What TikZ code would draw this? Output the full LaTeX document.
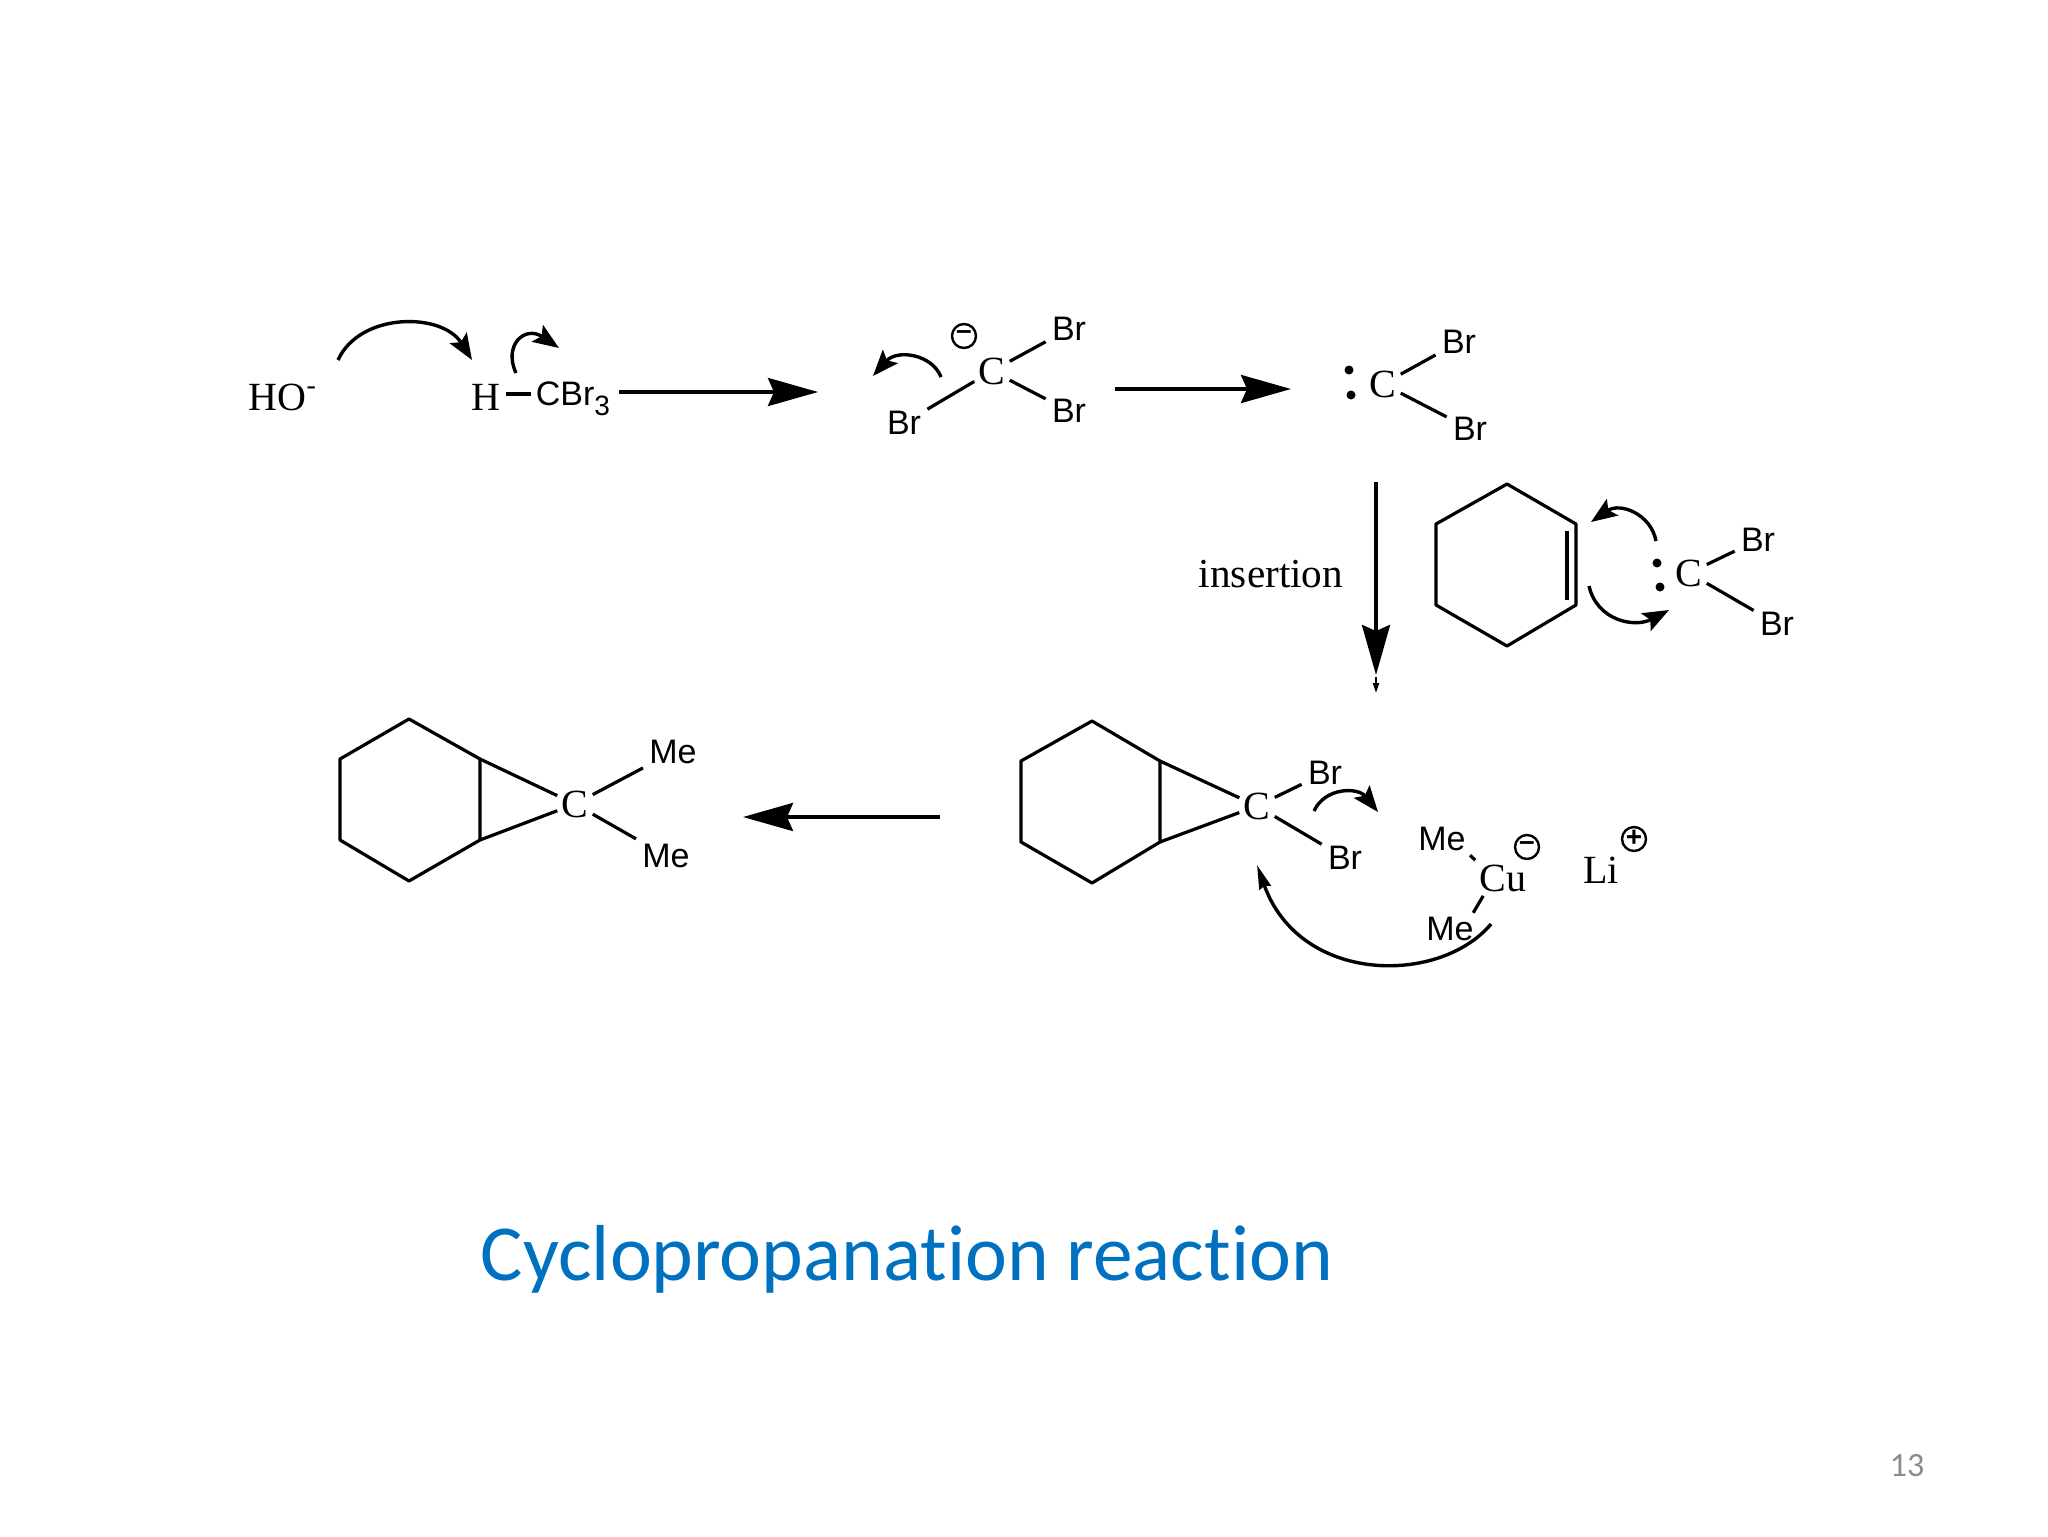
\documentclass[tikz,border=0pt]{standalone}
\usepackage{fontspec}
\setmainfont{Liberation Serif}
\newfontfamily\chemsans{Liberation Sans}
\newfontfamily\slidefont[Ligatures=NoCommon]{Carlito}
\usetikzlibrary{arrows.meta}
\definecolor{titleblue}{HTML}{0070C0}
\definecolor{pagegray}{HTML}{8B8B8B}
\tikzstyle{atom}=[inner sep=2pt, font=\fontsize{20}{24}\selectfont]
\tikzstyle{group}=[inner sep=3pt, font=\chemsans\fontsize{17}{20}\selectfont]
\tikzstyle{charge}=[circle, draw, line width=1.2pt, inner sep=0pt, minimum size=12pt, font=\bfseries\chemsans\fontsize{14}{14}\selectfont]
\tikzstyle{lonepair}=[circle, fill=black, inner sep=0pt, minimum size=4.5pt]
\tikzstyle{bigarrow}=[line width=1.8pt, -{Stealth[length=25pt, width=14pt, inset=3pt]}]
\tikzstyle{pusharrow}=[line width=1.7pt, -{Stealth[length=13pt, width=10pt, inset=2.5pt]}]
\newcommand{\atom}{\node[atom]}
\newcommand{\group}{\node[group]}
\newcommand{\ringpt}{\coordinate}
\newcommand{\freept}{\coordinate}

\begin{document}
\begin{tikzpicture}[x=.5pt, y=-.5pt, line join=round, every edge/.style={ draw, line width=1.6pt } ]
\useasboundingbox (0,0) rectangle (2048,1536);
% first row
\atom (ho) at (283,397) {HO\textsuperscript{-}};
\atom[inner sep=2.5pt] (h) at (486,397) {H};
\group[inner sep=2.5pt] (cbr) at (573,399) {CBr\raisebox{-.3em}{\fontsize{14}{14}\selectfont 3}};
\atom (c1) at (992,371) {C};
\group (br1) at (1069,329) {Br};
\group (br2) at (1069,411) {Br};
\group (br3) at (904,423) {Br};
\node[charge] (minus1) at (964,336) {\raisebox{.06em}{–}};
\node[lonepair] (dot1) at (1349,370) {};
\node[lonepair] (dot2) at (1351,395) {};
\atom (c2) at (1383,384) {C};
\group (br4) at (1459,342) {Br};
\group (br5) at (1470,429) {Br};
\freept (r1s) at (619,392);
\freept (r1e) at (818,392);
\freept (r2s) at (1115,389);
\freept (r2e) at (1291,389);
% insertion step
\freept (r3s) at (1376,482);
\freept (r3e) at (1376,675);
\freept (r4s) at (1376,677);
\freept (r4e) at (1376,693);
\atom[font=\fontsize{20.6}{24}\selectfont] (ins) at (1271,574) {insertion};
\ringpt (a1) at (1507,484);
\ringpt (a2) at (1576,524);
\ringpt (a3) at (1576,605);
\ringpt (a4) at (1507,646);
\ringpt (a5) at (1436,605);
\ringpt (a6) at (1436,524);
\ringpt (a7) at (1567,531);
\ringpt (a8) at (1567,600);
\node[lonepair] (dot3) at (1657,563) {};
\node[lonepair] (dot4) at (1660,587) {};
\atom (c3) at (1689,573) {C};
\group (br6) at (1758,540) {Br};
\group (br7) at (1777,624) {Br};
% second row
\ringpt (b1) at (1092,721);
\ringpt (b2) at (1160,761);
\ringpt (b3) at (1160,842);
\ringpt (b4) at (1092,883);
\ringpt (b5) at (1021,842);
\ringpt (b6) at (1021,761);
\atom (c4) at (1257,806) {C};
\group (br8) at (1325,773) {Br};
\group (br9) at (1345,858) {Br};
\group[inner sep=2pt] (me1) at (1442,839) {Me};
\group[inner sep=2pt] (me2) at (1450,929) {Me};
\atom (cu) at (1503,878) {Cu};
\node[charge] (minus2) at (1527,847) {\raisebox{.06em}{–}};
\atom (li) at (1601,870) {Li};
\node[charge] (plus) at (1634,839) {\raisebox{.02em}{+}};
\ringpt (d1) at (409,719);
\ringpt (d2) at (480,759);
\ringpt (d3) at (480,840);
\ringpt (d4) at (409,881);
\ringpt (d5) at (340,840);
\ringpt (d6) at (340,759);
\atom (c5) at (575,804) {C};
\group (me3) at (673,752) {Me};
\group (me4) at (666,856) {Me};
\freept (r5s) at (940,817);
\freept (r5e) at (743,817);
% caption
\node[anchor=base, inner sep=0pt, text=titleblue, font=\slidefont\fontsize{39.7}{44}\selectfont] (title) at (907,1280) {Cyclopropanation reaction};
\node[text=pagegray, inner sep=0pt, font=\slidefont\fontsize{17}{18}\selectfont] (page) at (1907,1466) {13};
% curly arrow ends
\freept (p1s) at (338,360);
\freept (p1e) at (472,360);
\freept (p2s) at (516,373);
\freept (p2e) at (559,348);
\freept (p3s) at (941,377);
\freept (p3e) at (873,376);
\freept (p4s) at (1656,541);
\freept (p4e) at (1591,522);
\freept (p5s) at (1589,586);
\freept (p5e) at (1669,610);
\freept (p6s) at (1314,811);
\freept (p6e) at (1378,812);
\freept (p7s) at (1491,924);
\freept (p7e) at (1257,865);
\path 
([yshift=1.5pt]h.east) edge ([yshift=2.5pt]cbr.west)
(c1) edge (br1) edge (br2) edge (br3)
(c2) edge (br4) edge (br5)
(c3) edge (br6) edge (br7)
(c4) edge (br8) edge (br9) edge (b2) edge (b3)
(cu.north west) edge (me1.south east)
(cu.222) edge (me2.35)
(c5) edge (me3) edge (me4) edge (d2) edge (d3)
(a7) edge (a8)
;
\draw[line width=1.6pt] (a1) -- (a2) -- (a3) -- (a4) -- (a5) -- (a6) -- cycle;
\draw[line width=1.6pt] (b1) -- (b2) -- (b3) -- (b4) -- (b5) -- (b6) -- cycle;
\draw[line width=1.6pt] (d1) -- (d2) -- (d3) -- (d4) -- (d5) -- (d6) -- cycle;
\draw[bigarrow] (r1s) -- (r1e);
\draw[bigarrow] (r2s) -- (r2e);
\draw[bigarrow] (r3s) -- (r3e);
\draw[line width=1pt, -{Stealth[length=5pt, width=3pt, inset=0pt]}] (r4s) -- (r4e);
\draw[bigarrow] (r5s) -- (r5e);
\draw[pusharrow] (p1s) .. controls (360,312) and (442,312) .. (p1e);
\draw[pusharrow] (p2s) .. controls (503,345) and (525,325) .. (p2e);
\draw[pusharrow] (p3s) .. controls (932,354) and (897,349) .. (p3e);
\draw[pusharrow] (p4s) .. controls (1651,514) and (1620,502) .. (p4e);
\draw[pusharrow] (p5s) .. controls (1597,621) and (1635,628) .. (p5e);
\draw[pusharrow] (p6s) .. controls (1325,787) and (1358,787) .. (p6e);
\draw[line width=1.7pt, -{Stealth[length=12pt, width=6pt, inset=1pt]}] (p7s) .. controls (1440,985) and (1300,985) .. (p7e);
\end{tikzpicture}
\end{document}
